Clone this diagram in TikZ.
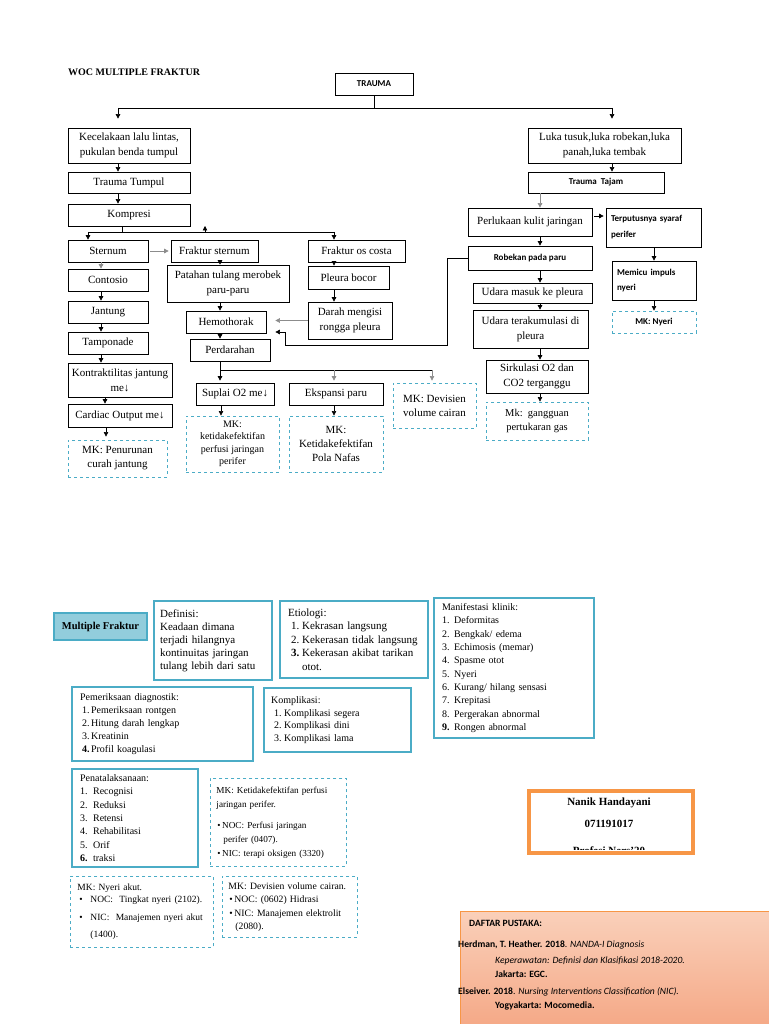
\documentclass[tikz,border=0pt]{standalone}
\usepackage{fontspec}
\setmainfont{Liberation Serif}
\newfontfamily\carl{Carlito}
\usetikzlibrary{arrows.meta}
\definecolor{tealb}{HTML}{4BACC6}
\definecolor{tealf}{HTML}{92CDDC}
\definecolor{orng}{HTML}{F79646}
\definecolor{salmt}{HTML}{FAD0BA}
\definecolor{salmb}{HTML}{F4A582}
\newcommand{\myfs}[2]{\fontsize{#1}{#2}\selectfont}
\newcommand{\numi}[2]{\makebox[#1][l]{#2}}
\begin{document}
\begin{tikzpicture}[x=1pt,y=-1pt,
 box/.style={draw, line width=0.7pt, inner sep=1pt, align=center, font=\myfs{11}{15}},
 sb/.style={font=\carl\bfseries\myfs{9}{12}},
 mk/.style={draw=tealb, dashed, line width=0.9pt, inner sep=1pt, align=center, font=\myfs{11}{14}},
 tb/.style={draw=tealb, line width=2.2pt, anchor=north west, align=left, inner ysep=2pt},
 dtb/.style={draw=tealb, dashed, line width=0.9pt, anchor=north west, align=left, inner ysep=2pt},
 arr/.style={-{Triangle[length=4.5pt,width=4.5pt]}, line width=0.6pt},
 garr/.style={arr, draw=black!45}
]
\fill[white] (0,0) rectangle (768,1024);
\useasboundingbox (0,0) rectangle (768,1024);

% title
\node[anchor=west, inner sep=0, font=\bfseries\myfs{10}{11}] (title) at (68,72) {WOC MULTIPLE FRAKTUR};

% ---------- flow nodes ----------
\node[box, sb, minimum width=78pt, minimum height=22pt] (trauma) at (374,84) {TRAUMA};
\node[box, minimum width=122pt, minimum height=35pt] (kec) at (129,145.5) {Kecelakaan lalu lintas,\\pukulan benda tumpul};
\node[box, minimum width=122pt, minimum height=21pt] (tumpul) at (129,182.5) {Trauma Tumpul};
\node[box, minimum width=122pt, minimum height=22pt] (kompresi) at (129,215) {Kompresi};
\node[box, minimum width=80pt, minimum height=22pt] (sternum) at (108,251) {Sternum};
\node[box, minimum width=87pt, minimum height=22pt] (fsternum) at (214.5,251) {Fraktur sternum};
\node[box, minimum width=97pt, minimum height=22pt] (fcosta) at (356.5,251) {Fraktur os costa};
\node[box, minimum width=80pt, minimum height=22pt] (contosio) at (108,280) {Contosio};
\node[box, minimum width=80pt, minimum height=22pt] (jantung) at (108,312) {Jantung};
\node[box, minimum width=80pt, minimum height=22pt] (tamponade) at (108,343) {Tamponade};
\node[box, minimum width=104pt, minimum height=34pt] (kontrak) at (120,380) {Kontraktilitas jantung\\me↓};
\node[box, minimum width=104pt, minimum height=23pt] (cardiac) at (120,415.5) {Cardiac Output me↓};
\node[mk, minimum width=99pt, minimum height=37pt] (mkcurah) at (117.5,458.5) {MK: Penurunan\\curah jantung};
\node[box, minimum width=122pt, minimum height=37pt] (patahan) at (228,283.5) {Patahan tulang merobek\\paru-paru};
\node[box, minimum width=80pt, minimum height=22pt] (hemo) at (226,322) {Hemothorak};
\node[box, minimum width=80pt, minimum height=22pt] (perdarahan) at (230,350) {Perdarahan};
\node[box, minimum width=78pt, minimum height=22pt] (suplai) at (235,394) {Suplai O2 me↓};
\node[box, minimum width=94pt, minimum height=22pt] (ekspansi) at (336,394) {Ekspansi paru};
\node[mk, minimum width=83pt, minimum height=45pt] (mkdev) at (434.5,405.5) {MK: Devisien\\volume cairan};
\node[mk, font=\myfs{10}{12.5}, minimum width=93pt, minimum height=56pt] (mkperf) at (232.5,444) {MK:\\ketidakefektifan\\perfusi jaringan\\perifer};
\node[mk, minimum width=94pt, minimum height=56pt] (mkpola) at (336,444) {MK:\\Ketidakefektifan\\Pola Nafas};
\node[box, minimum width=81pt, minimum height=23pt] (pleura) at (348.5,277.5) {Pleura bocor};
\node[box, minimum width=84pt, minimum height=37pt] (darah) at (350,320.5) {Darah mengisi\\rongga pleura};
\node[box, minimum width=153pt, minimum height=35pt] (luka) at (604.5,145.5) {Luka tusuk,luka robekan,luka\\panah,luka tembak};
\node[box, sb, minimum width=136pt, minimum height=21pt] (tajam) at (596,182.5) {Trauma\ \ Tajam};
\node[box, minimum width=124pt, minimum height=28pt] (perlukaan) at (530,222) {Perlukaan kulit jaringan};
\node[box, sb, align=left, text width=85pt, inner xsep=5pt, minimum height=39pt, font=\carl\bfseries\myfs{9}{16}] (terputus) at (653.5,227.5) {Terputusnya syaraf\\perifer};
\node[box, sb, minimum width=124pt, minimum height=24pt] (robekan) at (530,258) {Robekan pada paru};
\node[box, sb, align=left, text width=74pt, inner xsep=5pt, minimum height=39pt, font=\carl\bfseries\myfs{9}{15}] (memicu) at (654,280.5) {Memicu impuls\\nyeri};
\node[mk, sb, minimum width=84pt, minimum height=22pt] (mknyeri) at (654,322) {MK: Nyeri};
\node[box, minimum width=119pt, minimum height=20pt] (udaramasuk) at (532.5,293) {Udara masuk ke pleura};
\node[box, minimum width=115pt, minimum height=38pt] (udaraakum) at (530.5,329) {Udara terakumulasi di\\pleura};
\node[box, minimum width=102pt, minimum height=33pt] (sirkulasi) at (537,376.5) {Sirkulasi O2 dan\\CO2 terganggu};
\node[mk, font=\myfs{10.5}{14}, minimum width=102pt, minimum height=38pt] (mkgas) at (537,421) {Mk:\ \ gangguan\\pertukaran gas};

% ---------- helper coordinates ----------
\coordinate (bl) at (118,108);
\coordinate (br) at (612,108);
\coordinate (kl) at (88,232);
\coordinate (kr) at (334,232);
\coordinate (ku) at (205,232);
\coordinate (c101) at (101,0);
\coordinate (c105) at (105,0);
\coordinate (c106) at (106,0);
\coordinate (c118) at (118,0);
\coordinate (c122) at (122,0);
\coordinate (c220) at (220,0);
\coordinate (c221) at (221,0);
\coordinate (c334) at (334,0);
\coordinate (c540) at (540,0);
\coordinate (c612) at (612,0);
\coordinate (c654) at (654,0);
\coordinate (y216) at (0,216);
\coordinate (pl) at (220,370);
\coordinate (pr) at (432,370);
\coordinate (r1) at (447,345);
\coordinate (r2) at (285,332);

% ---------- connectors ----------
\draw[line width=0.6pt] (trauma.south) -- (trauma.south |- bl);
\draw[line width=0.6pt] (bl) -- (br);
\draw[arr, shorten >=9pt] (bl) -- (kec.north -| bl);
\draw[arr, shorten >=9pt] (br) -- (luka.north -| br);
\draw[arr] (kec.south -| c118) -- (tumpul.north -| c118);
\draw[arr] (tumpul.south -| c118) -- (kompresi.north -| c118);
\draw[line width=0.6pt] (kompresi.south -| c122) -- (kl -| c122);
\draw[line width=0.6pt] (kl) -- (kr);
\draw[arr] (kl) -- (sternum.north -| kl);
\draw[arr] (kr) -- (fcosta.north -| kr);
\draw[arr] (ku) -- ++(0,-6);
\draw[garr, shorten <=2pt, shorten >=2pt] (sternum.east) -- (fsternum.west);
\draw[garr] (sternum.south -| c101) -- (contosio.north -| c101);
\draw[arr] (contosio.south -| c101) -- (jantung.north -| c101);
\draw[arr] (jantung.south -| c101) -- (tamponade.north -| c101);
\draw[arr] (tamponade.south -| c101) -- (kontrak.north -| c101);
\draw[arr] (kontrak.south -| c105) -- (cardiac.north -| c105);
\draw[arr, shorten >=3pt] (cardiac.south -| c106) -- (mkcurah.north -| c106);
\draw[arr] (fsternum.south -| c220) -- (patahan.north -| c220);
\draw[arr] (patahan.south -| c220) -- (hemo.north -| c220);
\draw[arr] (hemo.south -| c220) -- (perdarahan.north -| c220);
\draw[line width=0.6pt] (perdarahan.south -| pl) -- (pl) -- (pr);
\draw[arr, shorten >=2pt] (pl) -- (suplai.north -| pl);
\draw[garr, shorten >=2pt] (pl -| c334) -- (ekspansi.north -| c334);
\draw[garr, shorten >=2pt] (pr) -- (mkdev.north -| pr);
\draw[arr] (suplai.south -| c221) -- (mkperf.north -| c221);
\draw[arr] (ekspansi.south -| c334) -- (mkpola.north -| c334);
\draw[arr] (fcosta.south -| c334) -- (pleura.north -| c334);
\draw[arr] (pleura.south -| c334) -- (darah.north -| c334);
\draw[garr, shorten >=9pt] (darah.west) -- (darah.west -| hemo.east);
\draw[arr, shorten >=9pt] (robekan.west) -| (r1) -| (r2) -- (r2 -| hemo.east);
\draw[arr] (luka.south -| c612) -- (tajam.north -| c612);
\draw[garr] (tajam.south -| c540) -- (perlukaan.north -| c540);
\draw[arr] (perlukaan.south -| c540) -- (robekan.north -| c540);
\draw[arr] (robekan.south -| c540) -- (udaramasuk.north -| c540);
\draw[arr] (udaramasuk.south -| c540) -- (udaraakum.north -| c540);
\draw[arr] (udaraakum.south -| c540) -- (sirkulasi.north -| c540);
\draw[arr] (sirkulasi.south -| c540) -- (mkgas.north -| c540);
\draw[arr, shorten <=2pt, shorten >=2pt] (perlukaan.east |- y216) -- (terputus.west |- y216);
\draw[arr] (terputus.south -| c654) -- (memicu.north -| c654);
\draw[arr] (memicu.south -| c654) -- (mknyeri.north -| c654);

% ---------- bottom section ----------
\node[draw=tealb, line width=2pt, fill=tealf, anchor=north west, minimum width=93pt, minimum height=27pt, inner sep=0, font=\bfseries\myfs{10.5}{12}] (mf) at (53,612) {Multiple Fraktur};

\node[tb, inner xsep=6pt, text width=106pt, minimum height=79pt, font=\myfs{11}{13}] (def) at (153,600)
 {Definisi:\\Keadaan dimana\\terjadi hilangnya\\kontinuitas jaringan\\tulang lebih dari satu};

\node[tb, inner xsep=8pt, text width=132pt, minimum height=77pt, font=\myfs{11}{13.5}] (eti) at (279,600)
 {Etiologi:\\\hspace*{3pt}\numi{11pt}{1.}Kekrasan langsung\\\hspace*{3pt}\numi{11pt}{2.}Kekerasan tidak langsung\\\hspace*{3pt}\numi{11pt}{\textbf{3.}}Kekerasan akibat tarikan\\\hspace*{14pt}otot.};

\node[tb, inner xsep=8pt, text width=144pt, minimum height=140pt, font=\myfs{10}{13.3}] (man) at (433,597)
 {Manifestasi klinik:\\\numi{12pt}{1.}Deformitas\\\numi{12pt}{2.}Bengkak/ edema\\\numi{12pt}{3.}Echimosis (memar)\\\numi{12pt}{4.}Spasme otot\\\numi{12pt}{5.}Nyeri\\\numi{12pt}{6.}Kurang/ hilang sensasi\\\numi{12pt}{7.}Krepitasi\\\numi{12pt}{8.}Pergerakan abnormal\\\numi{12pt}{\textbf{9.}}Rongen abnormal};

\node[tb, inner xsep=8pt, text width=165pt, minimum height=74pt, font=\myfs{10}{12.8}] (pem) at (71,686)
 {Pemeriksaan diagnostik:\\\hspace*{2pt}\numi{9pt}{1.}Pemeriksaan rontgen\\\hspace*{2pt}\numi{9pt}{2.}Hitung darah lengkap\\\hspace*{2pt}\numi{9pt}{3.}Kreatinin\\\hspace*{2pt}\numi{9pt}{\textbf{4.}}Profil koagulasi};

\node[tb, inner xsep=7pt, text width=133pt, minimum height=64pt, font=\myfs{10}{12.7}] (kom) at (263,687)
 {Komplikasi:\\\hspace*{3pt}\numi{10pt}{1.}Komplikasi segera\\\hspace*{3pt}\numi{10pt}{2.}Komplikasi dini\\\hspace*{3pt}\numi{10pt}{3.}Komplikasi lama};

\node[tb, inner xsep=8pt, text width=110pt, minimum height=98pt, font=\myfs{10}{13.3}] (pen) at (71,768)
 {Penatalaksanaan:\\\numi{13pt}{1.}Recognisi\\\numi{13pt}{2.}Reduksi\\\numi{13pt}{3.}Retensi\\\numi{13pt}{4.}Rehabilitasi\\\numi{13pt}{5.}Orif\\\numi{13pt}{\textbf{6.}}traksi};

\node[dtb, inner xsep=6pt, text width=124pt, minimum height=88pt, font=\myfs{9.2}{14}] (mkp) at (210,778)
 {MK: Ketidakefektifan perfusi\\jaringan perifer.\\[7pt]\hspace*{1pt}•\,NOC: Perfusi jaringan\\\hspace*{7pt}perifer (0407).\\\hspace*{1pt}•\,NIC: terapi oksigen (3320)};

\node[dtb, inner xsep=7pt, text width=129pt, minimum height=71pt, font=\myfs{9.5}{12.5}] (mkn) at (70,876)
 {MK: Nyeri akut.\\\hspace*{2pt}\numi{11pt}{•}NOC:\ \ Tingkat nyeri (2102).\\[5pt]\hspace*{2pt}\numi{11pt}{•}NIC:\ \ Manajemen nyeri akut\\[5pt]\hspace*{13pt}(1400).};

\node[dtb, inner xsep=6pt, text width=123pt, minimum height=61pt, font=\myfs{9.7}{13.5}] (mkd) at (222,876)
 {MK: Devisien volume cairan.\\\hspace*{1pt}•\,NOC: (0602) Hidrasi\\\hspace*{1pt}•\,NIC: Manajemen elektrolit\\\hspace*{7pt}(2080).};

% name box
\node[font=\bfseries\myfs{11}{13}] (nn1) at (609,803) {Nanik Handayani};
\node[font=\bfseries\myfs{11}{13}] (nn2) at (609,824) {071191017};
\begin{scope}
\clip (529,791) rectangle (689,849);
\node[anchor=base, font=\bfseries\myfs{11}{13}] (nn3) at (609,854) {Profesi Ners'20};
\end{scope}
\node[draw=orng, line width=4pt, anchor=north west, minimum width=164pt, minimum height=62pt, inner sep=0] (nanik) at (527,789) {};

% references
\node[anchor=north west, minimum width=320pt, minimum height=125pt, inner sep=0, draw=orng, line width=0.8pt, top color=salmt, bottom color=salmb] (dp) at (460,911) {};
\begin{scope}[every node/.style={anchor=base west, inner sep=0, font=\carl\myfs{9.6}{11}}]
\node (dp0) at (469,926) {\textbf{DAFTAR PUSTAKA:}};
\node (dp1) at (458,947) {\textbf{Herdman, T. Heather. 2018}. \textit{NANDA-I Diagnosis}};
\node (dp2) at (495,963) {\textit{Keperawatan: Definisi dan Klasifikasi 2018-2020.}};
\node (dp3) at (495,977) {\textbf{Jakarta: EGC.}};
\node (dp4) at (458,994) {\textbf{Elseiver. 2018}. \textit{Nursing Interventions Classification (NIC).}};
\node (dp5) at (495,1008) {\textbf{Yogyakarta: Mocomedia.}};
\end{scope}
\end{tikzpicture}
\end{document}
